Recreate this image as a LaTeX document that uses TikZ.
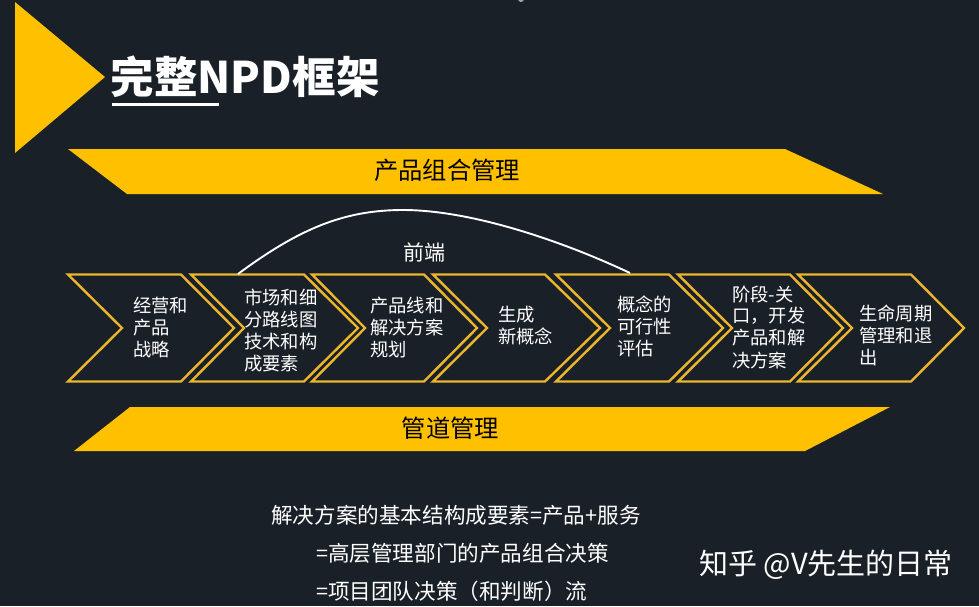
\documentclass[tikz,border=0pt]{standalone}
\usepackage{fontspec}
\setmainfont{Noto Sans CJK SC}
\definecolor{bgdark}{HTML}{1A2028}
\definecolor{npdgold}{HTML}{FFC000}
\definecolor{edgegold}{HTML}{EBB62D}
\tikzset{
  chevron/.style={draw=edgegold,line width=2.4pt,line join=miter,miter limit=10},
  steptext/.style={text=white,anchor=west,align=left,inner sep=0pt,font=\fontsize{18.3}{22}\selectfont},
  bannertext/.style={text=black,inner sep=0pt,font=\fontsize{24.3}{27}\selectfont},
  notetext/.style={text=white,anchor=west,inner sep=0pt,font=\fontsize{21.6}{24}\selectfont}
}
\begin{document}
\begin{tikzpicture}[x=1pt,y=-1pt]
\fill[bgdark] (0,0) rectangle (979,606);
\useasboundingbox (0,0) rectangle (979,606);
\fill[gray!70] (521,-1) circle [radius=3];
\fill[npdgold] (15,2) -- (105,77) -- (15,153) -- cycle;
\node[text=white,inner sep=0pt,anchor=west,font=\fontsize{43.5}{46}\bfseries\selectfont] (title) at (110.5,77) {完整NPD框架};
\fill[white] (112,102.5) rectangle (219,105.5);
% banners
\fill[npdgold] (68,149) -- (785,149) -- (883,194) -- (127,194) -- cycle;
\node[bannertext] (portfolio) at (447,170) {产品组合管理};
\fill[npdgold] (130,407) -- (890,407) -- (805,451) -- (74,451) -- cycle;
\node[bannertext] (pipeline) at (450.5,428) {管道管理};
% chevrons
\foreach \xa/\xb/\xc/\xd in {68/122/181/234,191/244/304/358,312/365/424/477,433/487/545/600,556/610/669/723,678/732/790/843,798/852/911/964}
  \draw[chevron] (\xa,274.5) -- (\xc,274.5) -- (\xd,328) -- (\xc,381.5) -- (\xa,381.5) -- (\xb,328) -- cycle;
\node[steptext] (strategy) at (133,328) {经营和\\产品\\战略};
\node[steptext] (market) at (244,331) {市场和细\\分路线图\\技术和构\\成要素};
\node[steptext] (line) at (370,328) {产品线和\\解决方案\\规划};
\node[steptext] (concept) at (498,326) {生成\\新概念};
\node[steptext] (feasible) at (617,326) {概念的\\可行性\\评估};
\node[steptext] (gate) at (732,327) {阶段-关\\口，开发\\产品和解\\决方案};
\node[steptext] (cycle) at (859,335) {生命周期\\管理和退\\出};
% front end
\coordinate (arcstart) at (238,274);
\coordinate (arcend) at (630,273);
\draw[white,line width=1.9pt] (arcstart) .. controls (300,228) and (345,210) .. (403,210) .. controls (470,210) and (560,240) .. (arcend);
\node[text=white,inner sep=0pt,font=\fontsize{21}{24}\selectfont] (frontend) at (424.5,252) {前端};
% notes
\node[notetext] (noteone) at (271,515) {解决方案的基本结构成要素=产品+服务};
\node[notetext] (notetwo) at (316,553) {=高层管理部门的产品组合决策};
\node[notetext] (notethree) at (316,591) {=项目团队决策（和判断）流};
\node[text=white,inner sep=0pt,anchor=west,font=\fontsize{29}{32}\selectfont] (mark) at (699,565) {知乎 @V先生的日常};
\end{tikzpicture}
\end{document}
